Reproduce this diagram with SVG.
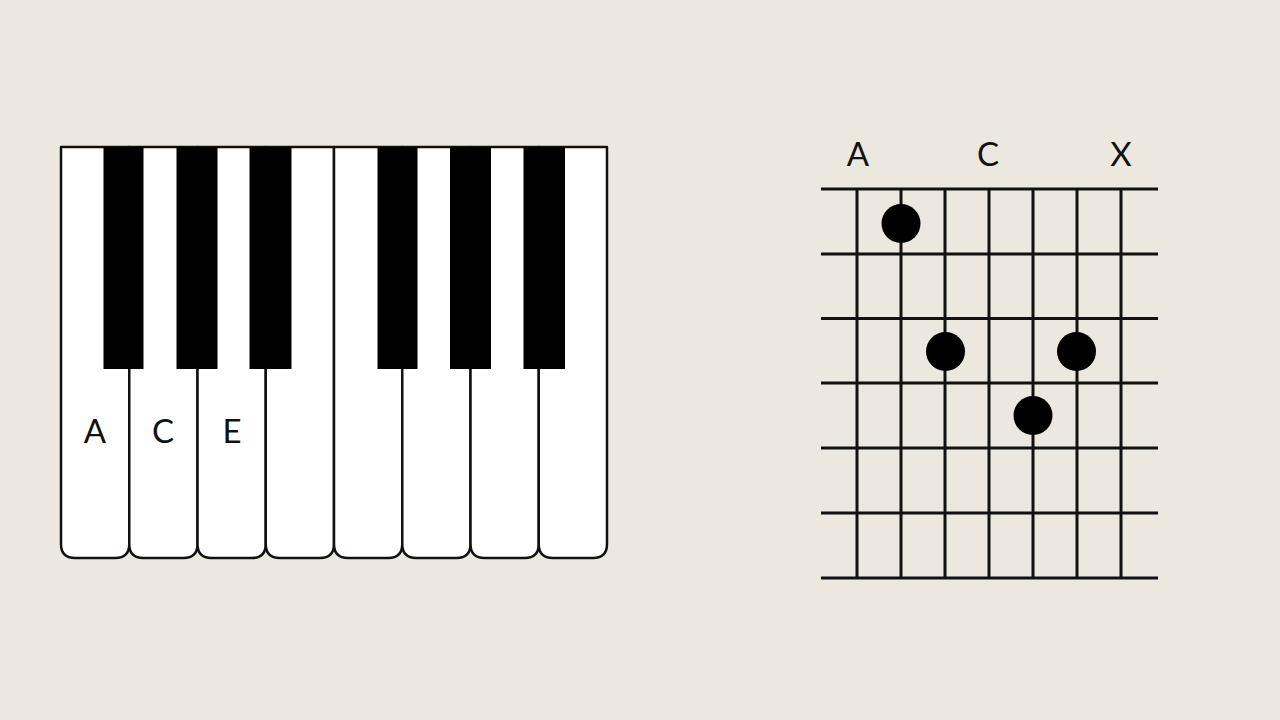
<svg xmlns="http://www.w3.org/2000/svg" width="1280" height="720" viewBox="0 0 1280 720">
<style>
.wk{fill:#fff;stroke:#111;stroke-width:2.5;stroke-linejoin:round}
.bk{fill:#000}
.lbl{font-family:Lato,"Liberation Sans",sans-serif;font-size:33px;fill:#111;text-anchor:middle}
.gl{stroke:#111;stroke-width:3;fill:none}
.dot{fill:#000}
</style>
<rect width="1280" height="720" fill="#ece8df"/>
<g id="piano">
<g id="white-keys">
<path class="wk" d="M61 147 H129.25 V544 Q129.25 558 115.25 558 H75 Q61 558 61 544 Z"/>
<path class="wk" d="M129.25 147 H197.5 V544 Q197.5 558 183.5 558 H143.25 Q129.25 558 129.25 544 Z"/>
<path class="wk" d="M197.5 147 H265.75 V544 Q265.75 558 251.75 558 H211.5 Q197.5 558 197.5 544 Z"/>
<path class="wk" d="M265.75 147 H334 V544 Q334 558 320 558 H279.75 Q265.75 558 265.75 544 Z"/>
<path class="wk" d="M334 147 H402.25 V544 Q402.25 558 388.25 558 H348 Q334 558 334 544 Z"/>
<path class="wk" d="M402.25 147 H470.5 V544 Q470.5 558 456.5 558 H416.25 Q402.25 558 402.25 544 Z"/>
<path class="wk" d="M470.5 147 H538.75 V544 Q538.75 558 524.75 558 H484.5 Q470.5 558 470.5 544 Z"/>
<path class="wk" d="M538.75 147 H607 V544 Q607 558 593 558 H552.75 Q538.75 558 538.75 544 Z"/>
</g>
<g id="black-keys">
<rect class="bk" x="103.5" y="147" width="40" height="222"/>
<rect class="bk" x="176.5" y="147" width="41" height="222"/>
<rect class="bk" x="249.5" y="147" width="42" height="222"/>
<rect class="bk" x="377.5" y="147" width="40" height="222"/>
<rect class="bk" x="450" y="147" width="41" height="222"/>
<rect class="bk" x="523.5" y="147" width="41.5" height="222"/>
</g>
<g id="piano-labels">
<text class="lbl" x="95" y="443">A</text>
<text class="lbl" x="163" y="443">C</text>
<text class="lbl" x="232" y="443">E</text>
</g>
</g>
<g id="fretboard">
<g id="frets">
<line class="gl" x1="821" y1="189" x2="1158" y2="189"/>
<line class="gl" x1="821" y1="254" x2="1158" y2="254"/>
<line class="gl" x1="821" y1="318.5" x2="1158" y2="318.5"/>
<line class="gl" x1="821" y1="383" x2="1158" y2="383"/>
<line class="gl" x1="821" y1="448" x2="1158" y2="448"/>
<line class="gl" x1="821" y1="513" x2="1158" y2="513"/>
<line class="gl" x1="821" y1="578" x2="1158" y2="578"/>
</g>
<g id="strings">
<line class="gl" x1="857" y1="189" x2="857" y2="578"/>
<line class="gl" x1="901" y1="189" x2="901" y2="578"/>
<line class="gl" x1="945" y1="189" x2="945" y2="578"/>
<line class="gl" x1="989" y1="189" x2="989" y2="578"/>
<line class="gl" x1="1033" y1="189" x2="1033" y2="578"/>
<line class="gl" x1="1077" y1="189" x2="1077" y2="578"/>
<line class="gl" x1="1121" y1="189" x2="1121" y2="578"/>
</g>
<g id="dots">
<circle class="dot" cx="901" cy="223.5" r="19.5"/>
<circle class="dot" cx="945.5" cy="351.5" r="19.5"/>
<circle class="dot" cx="1076.5" cy="351.5" r="19.5"/>
<circle class="dot" cx="1033" cy="415.5" r="19.5"/>
</g>
<g id="fret-labels">
<text class="lbl" x="858" y="166">A</text>
<text class="lbl" x="988" y="166">C</text>
<text class="lbl" x="1121" y="166">X</text>
</g>
</g>
</svg>
